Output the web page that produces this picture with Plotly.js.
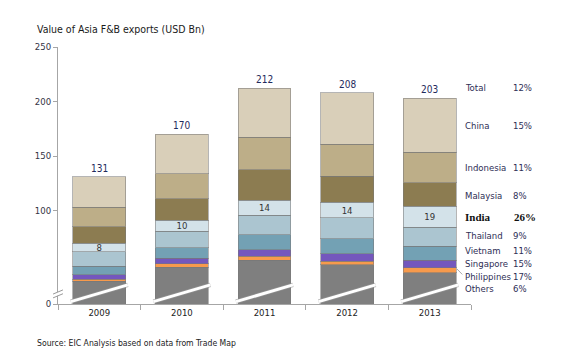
<!DOCTYPE html>
<html>
<head>
<meta charset="utf-8">
<script src="https://cdn.plot.ly/plotly-3.0.1.min.js"></script>
<style>html,body{margin:0;padding:0;background:#fff;}#chart{width:580px;height:360px;}</style>
</head>
<body>
<div id="chart"></div>
<script>
// ---- data ----
var years = ['2009', '2010', '2011', '2012', '2013'];
var seriesNames = ['Others', 'Philippines', 'Singapore', 'Vietnam', 'Thailand', 'India', 'Malaysia', 'Indonesia', 'China'];
var others      = [35.2, 48.3, 54.6, 50.4, 43.1];
var philippines = [1.8, 3.0, 3.7, 3.3, 4.5];
var singapore   = [4.2, 4.9, 6.1, 6.7, 7.0];
var vietnam     = [8.0, 9.7, 13.7, 14.1, 12.8];
var thailand    = [13.0, 15.2, 17.6, 19.1, 17.6];
var india       = [8, 10, 14, 14, 19];
var malaysia    = [15.2, 19.8, 27.7, 24.0, 21.5];
var indonesia   = [17.6, 22.9, 29.8, 29.5, 28.0];
var china       = [28.0, 36.2, 44.8, 46.9, 49.5];
var growthLabels = ['6%', '17%', '15%', '11%', '9%', '26%', '8%', '11%', '15%'];
var totalGrowth = '12%';
var axisBreakValue = 14.5;   // the value the broken axis starts from (shown as 0)

var seriesValues = [others, philippines, singapore, vietnam, thailand, india, malaysia, indonesia, china];
var colors = ['#7f7f7f', '#f79a4c', '#7457bd', '#73a1b4', '#abc5d0', '#d3e2e9', '#8c7c51', '#bdae88', '#d9cfb9'];

var FONT = '"DejaVu Sans Condensed", "Liberation Sans", sans-serif';

var traces = seriesNames.map(function (name, k) {
  var t = {
    type: 'bar', name: name, x: years, y: seriesValues[k],
    marker: {color: colors[k], line: {color: 'rgba(120,120,120,0.55)', width: 1}},
    hoverinfo: 'x+y+name'
  };
  if (name === 'India') {
    t.text = seriesValues[k].map(function (v) { return String(Math.round(v)); });
    t.textposition = 'inside';
    t.insidetextanchor = 'middle';
    t.textangle = 0;
    t.constraintext = 'none';
    t.textfont = {family: FONT, size: 9.5, color: '#333333'};
  }
  return t;
});

var totals = years.map(function (_, i) {
  return seriesValues.reduce(function (s, arr) { return s + arr[i]; }, 0);
});

var annotations = [];
// totals above bars (x given as category serial number)
years.forEach(function (yr, i) {
  annotations.push({x: i, y: totals[i], xref: 'x', yref: 'y', text: String(Math.round(totals[i])),
    showarrow: false, yanchor: 'bottom', yshift: 1,
    font: {family: FONT, size: 10, color: '#1f2a5c'}});
});

// right-hand labels beside the last bar
var last = years.length - 1;
var base = 0;
var nameX = 0.981, pctX = 1.097;
var yShifts = {Others: 0, Philippines: -6, Singapore: 1, Vietnam: 3, Thailand: 1, India: 0, Malaysia: -1, Indonesia: 0, China: 0};
seriesNames.forEach(function (name, k) {
  var top = base + seriesValues[k][last];
  var lo = Math.max(base, axisBreakValue);
  var mid = (lo + top) / 2;
  base = top;
  var isIndia = name === 'India';
  var f = isIndia ? {family: '"Liberation Serif", serif', size: 11, color: '#111111'}
                  : {family: FONT, size: 9.5, color: '#2e2e55'};
  annotations.push({x: nameX, y: mid, xref: 'paper', yref: 'y', text: isIndia ? '<b>' + name + '</b>' : name,
    showarrow: false, xanchor: 'left', yanchor: 'middle', yshift: yShifts[name], font: f});
  annotations.push({x: pctX + (isIndia ? 0.003 : 0), y: mid, xref: 'paper', yref: 'y',
    text: isIndia ? '<b>' + growthLabels[k] + '</b>' : growthLabels[k],
    showarrow: false, xanchor: 'left', yanchor: 'middle', yshift: yShifts[name], font: f});
});
annotations.push({x: nameX, y: totals[last], xref: 'paper', yref: 'y', text: 'Total', showarrow: false,
  xanchor: 'left', yanchor: 'middle', yshift: 11, font: {family: FONT, size: 9.5, color: '#2e2e55'}});
annotations.push({x: pctX, y: totals[last], xref: 'paper', yref: 'y', text: totalGrowth, showarrow: false,
  xanchor: 'left', yanchor: 'middle', yshift: 11, font: {family: FONT, size: 9.5, color: '#2e2e55'}});

// source
annotations.push({x: -0.055, y: -0.152, xref: 'paper', yref: 'paper', text: 'Source: EIC Analysis based on data from Trade Map',
  showarrow: false, xanchor: 'left', yanchor: 'middle', font: {family: FONT, size: 8.6, color: '#222222'}});

// shapes: break slashes across every bar and on the y axis
var shapes = [];
years.forEach(function (yr, i) {
  shapes.push({type: 'line', xref: 'x', yref: 'y', x0: i - 0.345, x1: i + 0.345,
    y0: axisBreakValue + 2.2, y1: axisBreakValue + 17.5,
    line: {color: 'rgba(150,150,150,0.7)', width: 4.5}, layer: 'above'});
  shapes.push({type: 'line', xref: 'x', yref: 'y', x0: i - 0.345, x1: i + 0.345,
    y0: axisBreakValue + 2.2, y1: axisBreakValue + 17.5,
    line: {color: '#ffffff', width: 3}, layer: 'above'});
});
// y axis break
shapes.push({type: 'rect', xref: 'paper', yref: 'y', x0: -0.006, x1: 0.006,
  y0: axisBreakValue + 7.5, y1: axisBreakValue + 11, fillcolor: '#ffffff', line: {width: 0}, layer: 'above'});
shapes.push({type: 'line', xref: 'paper', yref: 'y', x0: -0.012, x1: 0.012,
  y0: axisBreakValue + 5.6, y1: axisBreakValue + 9.4, line: {color: '#999999', width: 1}, layer: 'above'});
shapes.push({type: 'line', xref: 'paper', yref: 'y', x0: -0.012, x1: 0.012,
  y0: axisBreakValue + 9.1, y1: axisBreakValue + 12.9, line: {color: '#999999', width: 1}, layer: 'above'});
// leader line to Philippines
var philTop = others[last] + philippines[last];
shapes.push({type: 'line', xref: 'paper', yref: 'y', x0: 0.966, x1: 0.979,
  y0: philTop - 1, y1: philTop - 6, line: {color: '#aaaaaa', width: 1}, layer: 'above'});

var layout = {
  width: 580, height: 360,
  margin: {l: 58, r: 109, t: 47, b: 56},
  paper_bgcolor: '#ffffff', plot_bgcolor: '#ffffff',
  showlegend: false,
  barmode: 'stack',
  bargap: 0.36,
  title: {text: 'Value of Asia F&B exports (USD Bn)', x: 37 / 580, xref: 'container', xanchor: 'left',
    y: 1 - 29 / 360, yref: 'container', yanchor: 'middle',
    font: {family: FONT, size: 10.5, color: '#1a1a1a'}},
  xaxis: {type: 'category', range: [-0.5, years.length - 0.5], autorange: false,
    showline: true, linecolor: '#a6a6a6', linewidth: 1,
    ticks: 'outside', tickson: 'boundaries', ticklen: 5, tickcolor: '#a6a6a6',
    showgrid: false, zeroline: false,
    tickfont: {family: FONT, size: 9.5, color: '#222222'}},
  yaxis: {range: [axisBreakValue, 250], autorange: false, showline: true, linecolor: '#a6a6a6', linewidth: 1,
    ticks: 'outside', ticklen: 4, tickcolor: '#a6a6a6', showgrid: false, zeroline: false,
    tickvals: [axisBreakValue, 100, 150, 200, 250], ticktext: ['0', '100', '150', '200', '250'],
    tickfont: {family: FONT, size: 9.5, color: '#333344'}},
  annotations: annotations,
  shapes: shapes,
  font: {family: FONT}
};

Plotly.newPlot('chart', traces, layout, {displayModeBar: false, staticPlot: true});
</script>
</body>
</html>
